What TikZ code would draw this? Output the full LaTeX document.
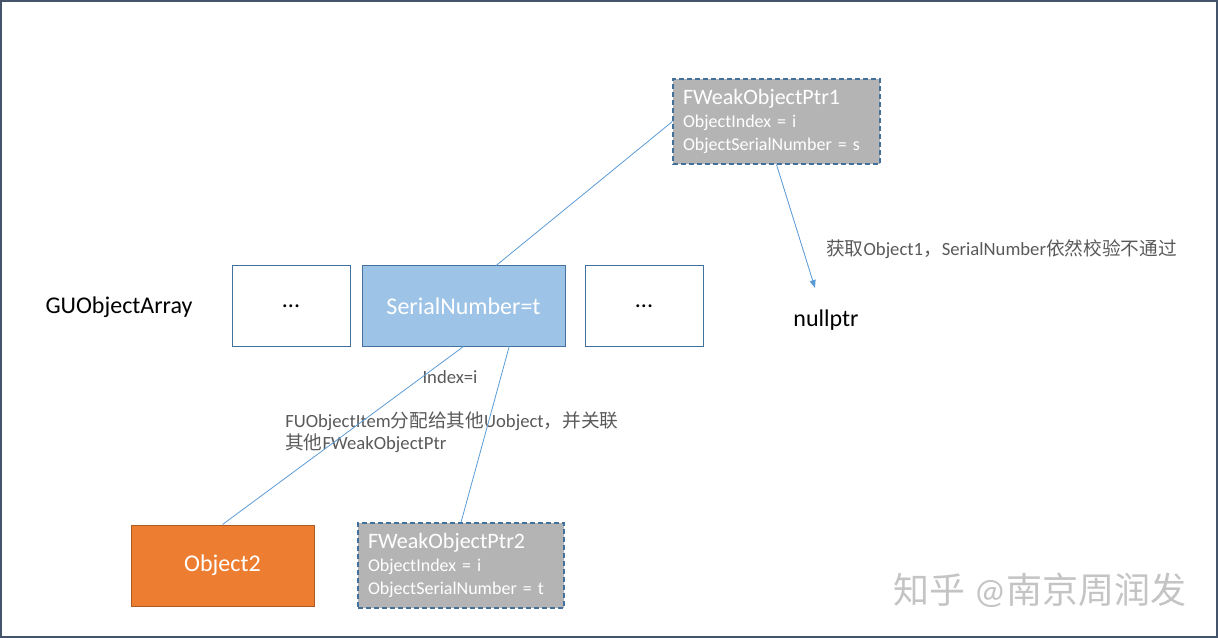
\documentclass[tikz,border=0pt]{standalone}
\usepackage{fontspec}
\setmainfont{Carlito}
\newfontfamily\cjk{Noto Sans CJK SC}
\usepackage{tikz}
\usetikzlibrary{arrows.meta,positioning,calc}
\definecolor{FrameSlate}{HTML}{44546A}
\definecolor{CellBorder}{HTML}{41719C}
\definecolor{CellBlue}{HTML}{9DC3E6}
\definecolor{LinkBlue}{HTML}{5B9BD5}
\definecolor{WeakGray}{HTML}{B4B4B4}
\definecolor{ObjOrange}{HTML}{ED7D31}
\definecolor{ObjBorder}{HTML}{AE5A21}
\definecolor{NoteGray}{HTML}{595959}
\definecolor{MarkGray}{HTML}{C4C4C4}

\begin{document}
\begin{tikzpicture}[
        x=0.75pt, y=-0.75pt,
        font=\fontsize{18}{21}\selectfont,
        cell/.style={draw=CellBorder, line width=0.75pt, fill=white, align=center,
          minimum height=60pt, inner sep=2pt},
        weak/.style={draw=CellBorder, dash pattern=on 4pt off 2pt, line width=0.9pt, fill=WeakGray, text=white,
          align=left, inner sep=7.5pt, minimum height=60pt,
          font=\fontsize{13.5}{17.5}\selectfont},
        link/.style={draw=LinkBlue, line width=0.6pt},
        arrow/.style={-{Triangle[length=6pt, width=4.5pt]}, draw=LinkBlue, fill=LinkBlue, line width=0.6pt},
        note/.style={text=NoteGray, font=\fontsize{14}{16.5}\selectfont, inner sep=0pt}
      ]
        \useasboundingbox (0,0) rectangle (1218,638);
        \draw[FrameSlate, line width=1.2pt] (0.8,0.8) rectangle (1217.2,637.2);
        \node[inner sep=0pt] (arr) at (119,307) {GUObjectArray};
        \node[cell, minimum width=88.5pt] (dots1) at (291,306) {...};
        \node[cell, fill=CellBlue, text=white, minimum width=152.25pt, right=8.25pt of dots1] (sn) {SerialNumber=t};
        \node[cell, minimum width=88.5pt, right=14.25pt of sn] (dots2) {...};
        \node[weak, text width=140.25pt, minimum height=59.25pt] (fw1) at (776.5,121.5)
          {{\fontsize{16.5}{18}\selectfont FWeakObjectPtr1}\\ObjectIndex = i\\ObjectSerialNumber = s};
        \node[inner sep=0pt] (null) at (826,320) {nullptr};
        \coordinate (nulltip) at (815,288);
        \node[note, anchor=west] (fail) at (826,249) {{\cjk 获取}Object1{\cjk ，}SerialNumber{\cjk 依然校验不通过}};
        \node[draw=ObjBorder, line width=0.75pt, fill=ObjOrange, text=white,
          minimum width=137.25pt, minimum height=60.75pt] (obj2) at (222.5,565.5) {Object2};
        \node[weak, text width=139.5pt, minimum height=60.75pt] (fw2) at (461,565.5)
          {{\fontsize{16.5}{18}\selectfont FWeakObjectPtr2}\\ObjectIndex = i\\ObjectSerialNumber = t};
        \node[note] (idx) at (450,377) {Index=i};
        \node[note, align=left, anchor=west] (reuse) at (285,432)
          {FUObjectItem{\cjk 分配给其他}Uobject{\cjk ，并关联}\\{\cjk 其他}FWeakObjectPtr};
        \node[text=MarkGray, font=\fontsize{27}{30}\selectfont, inner sep=0pt] (mark) at (1040,590) {{\cjk 知乎} @{\cjk 南京周润发}};
        \draw[link] ($(sn.north west)!0.66!(sn.north east)$) -- (fw1.west);
        \draw[link] (sn.south) -- (obj2.north);
        \draw[link] ($(sn.south west)!0.724!(sn.south east)$) -- (fw2.north);
        \draw[arrow] ($(fw1.south west)!0.5!(fw1.south east)$) -- (nulltip);
      \end{tikzpicture}
\end{document}
